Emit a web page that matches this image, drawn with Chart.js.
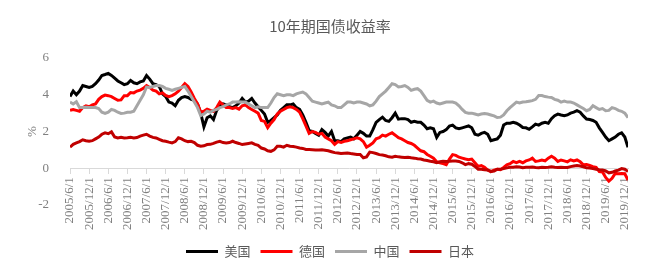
<!DOCTYPE html>
<html>
<head>
<meta charset="utf-8">
<script src="https://cdn.jsdelivr.net/npm/chart.js@4"></script>
<style>
  html, body { margin: 0; padding: 0; background: #fff; }
  #wrap { width: 660px; height: 278px; }
</style>
</head>
<body>
<div id="wrap"><canvas id="c" width="660" height="278"></canvas></div>
<script>
// 월별 데이터: 2005/6 ~ 2020/1 (176개)
const tickLabels = [
  '2005/6/1','2005/12/1','2006/6/1','2006/12/1','2007/6/1','2007/12/1',
  '2008/6/1','2008/12/1','2009/6/1','2009/12/1','2010/6/1','2010/12/1',
  '2011/6/1','2011/12/1','2012/6/1','2012/12/1','2013/6/1','2013/12/1',
  '2014/6/1','2014/12/1','2015/6/1','2015/12/1','2016/6/1','2016/12/1',
  '2017/6/1','2017/12/1','2018/6/1','2018/12/1','2019/6/1','2019/12/1'
];
const seriesNames = ['美国', '德国', '中国', '日本'];

const usYield = [
  3.9, 4.2, 4.0, 4.2, 4.5, 4.45, 4.4, 4.45, 4.6, 4.8, 5.05, 5.1,
  5.16, 5.05, 4.9, 4.75, 4.65, 4.55, 4.6, 4.78, 4.65, 4.6, 4.7, 4.75,
  5.05, 4.85, 4.6, 4.55, 4.45, 4.05, 3.9, 3.6, 3.55, 3.4, 3.7, 3.85,
  3.9, 3.85, 3.75, 3.7, 3.5, 3.0, 2.25, 2.75, 2.85, 2.65, 3.15, 3.4,
  3.5, 3.45, 3.35, 3.3, 3.4, 3.55, 3.8, 3.6, 3.65, 3.8, 3.55, 3.35,
  3.15, 2.95, 2.5, 2.6, 2.75, 2.9, 3.15, 3.3, 3.45, 3.45, 3.5, 3.3,
  3.2, 2.9, 2.5, 2.05, 2.0, 1.9, 1.8, 2.1, 1.95, 1.75, 2.0, 1.5,
  1.5, 1.45, 1.6, 1.65, 1.7, 1.6, 1.8, 2.0, 1.9, 1.75, 1.75, 2.1,
  2.5, 2.65, 2.78, 2.6, 2.55, 2.75, 3.0, 2.67, 2.7, 2.7, 2.65, 2.5,
  2.55, 2.5, 2.5, 2.35, 2.15, 2.2, 2.15, 1.68, 1.95, 2.0, 2.1, 2.3,
  2.35, 2.2, 2.15, 2.2, 2.25, 2.3, 2.2, 1.85, 1.8, 1.9, 1.95, 1.85,
  1.5, 1.55, 1.6, 1.8, 2.35, 2.45, 2.45, 2.5, 2.45, 2.35, 2.22, 2.2,
  2.12, 2.25, 2.4, 2.35, 2.45, 2.5, 2.45, 2.7, 2.86, 2.95, 2.9, 2.86,
  2.9, 3.0, 3.05, 3.13, 3.05, 2.85, 2.68, 2.65, 2.6, 2.5, 2.2, 1.95,
  1.7, 1.5, 1.6, 1.7, 1.85, 1.93, 1.7, 1.14
];
const deYield = [
  3.15, 3.2, 3.15, 3.1, 3.3, 3.4, 3.35, 3.45, 3.5, 3.75, 3.9, 3.98,
  3.95, 3.9, 3.8, 3.7, 3.72, 3.95, 3.95, 4.12, 4.1, 4.2, 4.25, 4.35,
  4.5, 4.4, 4.25, 4.2, 4.05, 4.1, 3.96, 3.9, 3.95, 4.05, 4.2, 4.4,
  4.6, 4.45, 4.15, 3.8, 3.5, 3.05, 3.1, 3.22, 3.15, 3.1, 3.3, 3.6,
  3.45, 3.3, 3.3, 3.25, 3.3, 3.22, 3.4, 3.45, 3.3, 3.2, 3.1, 3.0,
  2.6, 2.55, 2.21, 2.45, 2.65, 2.95, 3.1, 3.2, 3.3, 3.35, 3.3, 3.2,
  3.05, 2.7, 2.3, 1.9, 2.0, 1.95, 1.85, 1.9, 1.7, 1.6, 1.5, 1.3,
  1.45, 1.4, 1.47, 1.5, 1.55, 1.6, 1.65, 1.6, 1.45, 1.15, 1.25, 1.38,
  1.6, 1.66, 1.8, 1.75, 1.85, 1.93, 1.8, 1.66, 1.6, 1.5, 1.4, 1.35,
  1.25, 1.1, 0.95, 0.9, 0.75, 0.65, 0.55, 0.35, 0.3, 0.25, 0.19, 0.5,
  0.74, 0.7, 0.6, 0.55, 0.5, 0.46, 0.5, 0.3, 0.1, 0.15, 0.05, -0.1,
  -0.18, -0.1, -0.05, -0.08, 0.05, 0.19, 0.25, 0.37, 0.3, 0.37, 0.3, 0.4,
  0.45, 0.55, 0.37, 0.4, 0.45, 0.4, 0.55, 0.65, 0.55, 0.37, 0.45, 0.4,
  0.35, 0.46, 0.4, 0.45, 0.35, 0.19, 0.2, 0.15, 0.09, 0.05, -0.18, -0.2,
  -0.5, -0.7, -0.55, -0.28, -0.3, -0.28, -0.3, -0.64
];
const cnYield = [
  3.6, 3.5, 3.62, 3.3, 3.3, 3.32, 3.3, 3.3, 3.3, 3.25, 3.05, 2.98,
  3.05, 3.2, 3.15, 3.05, 2.98, 3.0, 3.05, 3.05, 3.1, 3.4, 3.7, 4.0,
  4.42, 4.4, 4.45, 4.5, 4.5, 4.45, 4.35, 4.3, 4.24, 4.3, 4.35, 4.4,
  4.45, 4.2, 3.9, 3.6, 3.3, 2.86, 2.95, 3.1, 3.05, 3.15, 3.2, 3.3,
  3.35, 3.45, 3.5, 3.6, 3.6, 3.62, 3.6, 3.6, 3.5, 3.4, 3.3, 3.35,
  3.3, 3.3, 3.3, 3.55, 3.85, 4.05, 4.0, 3.95, 4.0, 4.0, 3.95, 4.05,
  4.1, 4.15, 4.05, 3.85, 3.65, 3.6, 3.55, 3.5, 3.55, 3.6, 3.45, 3.4,
  3.3, 3.3, 3.45, 3.6, 3.6, 3.55, 3.6, 3.6, 3.55, 3.5, 3.4, 3.45,
  3.65, 3.9, 4.05, 4.2, 4.4, 4.6, 4.55, 4.42, 4.45, 4.5, 4.4, 4.24,
  4.3, 4.33, 4.2, 3.95, 3.7, 3.6, 3.65, 3.55, 3.5, 3.55, 3.6, 3.6,
  3.6, 3.55, 3.4, 3.2, 3.04, 3.0, 3.0, 2.95, 2.9, 2.95, 2.98, 2.95,
  2.9, 2.85, 2.76, 2.78, 2.9, 3.13, 3.3, 3.45, 3.6, 3.55, 3.6, 3.62,
  3.65, 3.68, 3.75, 3.96, 3.96, 3.9, 3.87, 3.85, 3.75, 3.7, 3.6, 3.65,
  3.6, 3.6, 3.55, 3.45, 3.35, 3.25, 3.13, 3.2, 3.4, 3.3, 3.2, 3.25,
  3.13, 3.15, 3.3, 3.25, 3.15, 3.1, 3.0, 2.75
];
const jpYield = [
  1.15, 1.3, 1.38, 1.45, 1.55, 1.5, 1.47, 1.5, 1.6, 1.7, 1.85, 1.93,
  1.88, 1.98, 1.7, 1.65, 1.68, 1.65, 1.66, 1.68, 1.65, 1.67, 1.75, 1.8,
  1.85, 1.75, 1.68, 1.65, 1.57, 1.5, 1.47, 1.42, 1.38, 1.45, 1.66, 1.6,
  1.5, 1.45, 1.47, 1.4, 1.25, 1.2, 1.22, 1.29, 1.3, 1.35, 1.42, 1.47,
  1.4, 1.38, 1.4, 1.47, 1.4, 1.35, 1.29, 1.32, 1.35, 1.38, 1.3, 1.25,
  1.1, 1.05, 0.95, 0.92, 1.0, 1.2, 1.2, 1.15, 1.25, 1.2, 1.18, 1.15,
  1.1, 1.08, 1.02, 1.02, 1.01, 1.0, 1.0, 1.01, 0.98, 0.95, 0.9, 0.85,
  0.83, 0.8, 0.82, 0.83, 0.8, 0.78, 0.75, 0.75, 0.57, 0.62, 0.88, 0.85,
  0.8, 0.74, 0.72, 0.68, 0.62, 0.6, 0.65, 0.62, 0.6, 0.58, 0.6, 0.57,
  0.55, 0.52, 0.5, 0.45, 0.42, 0.38, 0.35, 0.3, 0.35, 0.38, 0.37, 0.38,
  0.4, 0.4, 0.37, 0.3, 0.2, 0.25, 0.22, 0.1, -0.05, -0.05, -0.08, -0.1,
  -0.18, -0.15, -0.05, -0.06, -0.02, 0.02, 0.05, 0.05, 0.08, 0.07, 0.03, 0.05,
  0.06, 0.07, 0.04, 0.03, 0.06, 0.04, 0.05, 0.08, 0.05, 0.04, 0.05, 0.04,
  0.04, 0.09, 0.12, 0.15, 0.12, 0.08, 0.02, 0.01, -0.02, -0.05, -0.08, -0.1,
  -0.15, -0.25, -0.22, -0.15, -0.1, -0.02, -0.05, -0.18
];

const COLORS = ['#000000', '#ff0000', '#a6a6a6', '#c00000'];
const SERIF = "'Liberation Serif', 'Times New Roman', serif";
const CJK = "'Noto Sans CJK SC', sans-serif";

const toPoints = arr => arr.map((v, i) => ({ x: i, y: v }));

const datasets = [usYield, deYield, cnYield, jpYield].map((arr, i) => ({
  label: seriesNames[i],
  data: toPoints(arr),
  borderColor: COLORS[i],
  backgroundColor: COLORS[i],
  borderWidth: 3,
  pointRadius: 0,
  tension: 0,
  order: 4 - i
}));

// 숨은 축: 여백 확보용
const spacer = (axis, position, size) => ({
  type: 'linear', axis, position, display: true,
  grid: { display: false }, border: { display: false },
  ticks: { display: false },
  afterFit: s => { if (axis === 'x') s.height = size; else s.width = size; }
});

new Chart(document.getElementById('c'), {
  type: 'line',
  data: { datasets },
  options: {
    responsive: false,
    animation: false,
    layout: { padding: { bottom: 10 } },
    scales: {
      x: {
        type: 'linear',
        position: { y: 0 },
        min: 0,
        max: usYield.length - 1,
        afterBuildTicks: s => { s.ticks = tickLabels.map((_, i) => ({ value: i * 6 })); },
        grid: { display: true, drawOnChartArea: false, drawTicks: true, tickLength: 5, color: '#d9d9d9' },
        border: { display: true, color: '#d9d9d9', width: 1 },
        ticks: {
          autoSkip: false,
          minRotation: 90,
          maxRotation: 90,
          padding: 4,
          color: '#7f7f7f',
          font: { family: SERIF, size: 13 },
          callback: (v, idx) => tickLabels[idx]
        }
      },
      y: {
        min: -2,
        max: 6,
        afterFit: s => { s.width = 70; },
        grid: { display: false },
        border: { display: false },
        ticks: {
          stepSize: 2,
          padding: 13,
          color: '#7f7f7f',
          font: { family: SERIF, size: 13 }
        },
        title: {
          display: true,
          text: '%',
          color: '#7f7f7f',
          font: { family: SERIF, size: 13 },
          padding: { top: 25, bottom: 0 }
        }
      },
      padB: spacer('x', 'bottom', 30),
      padR: spacer('y', 'right', 32)
    },
    plugins: {
      title: {
        display: true,
        text: '10年期国债收益率',
        color: '#595959',
        font: { family: CJK, size: 15, weight: 'normal' },
        padding: { top: 17, bottom: 23 }
      },
      legend: {
        position: 'bottom',
        labels: {
          boxWidth: 32,
          boxHeight: 3,
          padding: 10,
          color: '#595959',
          font: { family: CJK, size: 13 },
          sort: (a, b) => a.datasetIndex - b.datasetIndex,
          generateLabels: chart =>
            Chart.defaults.plugins.legend.labels.generateLabels(chart)
              .map(item => ({ ...item, lineWidth: 0 }))
        }
      },
      tooltip: { enabled: false }
    }
  }
});
</script>
</body>
</html>
